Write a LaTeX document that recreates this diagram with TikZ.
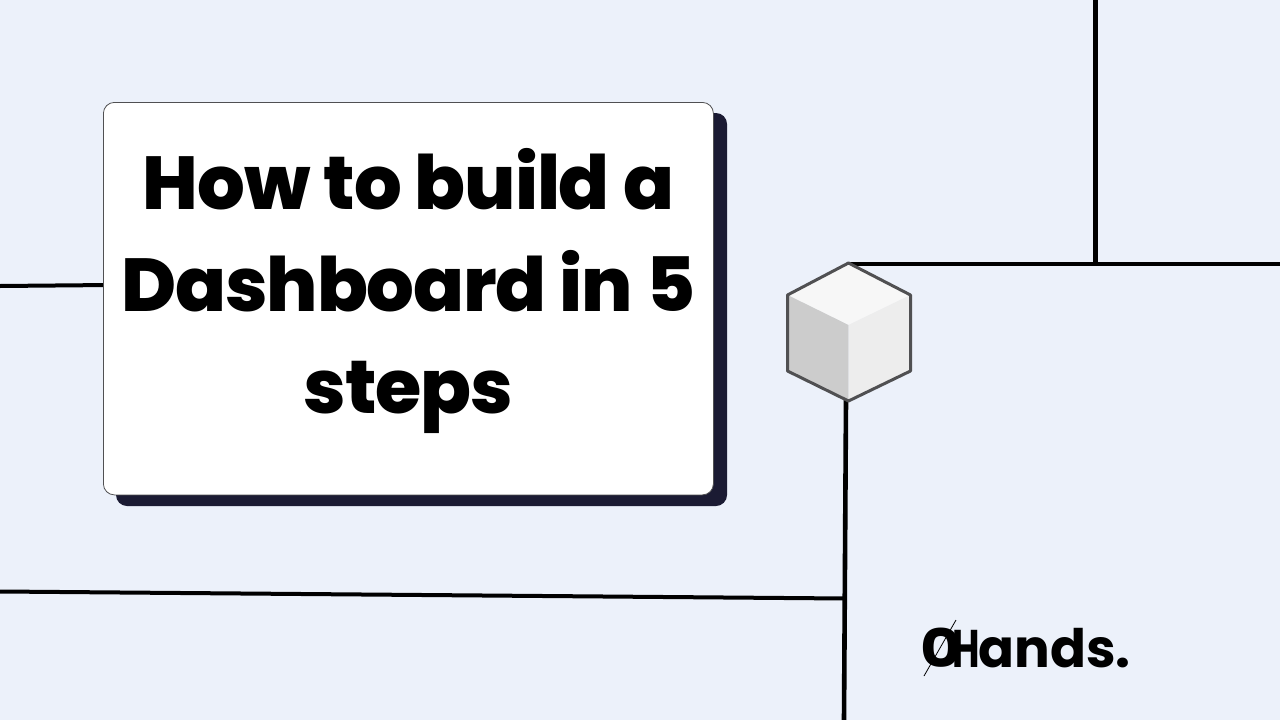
\documentclass[tikz,border=0pt]{standalone}
\usepackage{fontspec}
\usepackage{graphicx}
\setmainfont{Poppins}
\newfontfamily\popb{Poppins}[UprightFont=* ExtraBold,LetterSpace=-1.55]
\newfontfamily\poplogo{Poppins}[UprightFont=* Bold]
\definecolor{bgc}{HTML}{ECF1FA}
\definecolor{shadowc}{HTML}{1B1B33}
\definecolor{edgec}{HTML}{505052}
\tikzset{
  wire/.style={draw=black,line width=4.6pt},
  wirethin/.style={draw=black,line width=4pt},
  facet/.style={draw=none},
}
\begin{document}
\begin{tikzpicture}[x=1pt,y=-1pt]
\useasboundingbox (0,0) rectangle (1280,720);
\fill[bgc] (0,0) rectangle (1280,720);
% wires
\coordinate (topEnd) at (1095.5,0);
\coordinate (topJoin) at (1095.5,264);
\coordinate (rightEnd) at (1280,264);
\coordinate (cubeTop) at (848,264);
\coordinate (leftA) at (0,286);
\coordinate (leftB) at (110,285);
\coordinate (cubeBot) at (846,400);
\coordinate (botEnd) at (844,720);
\coordinate (botJoin) at (845,598.5);
\coordinate (leftC) at (0,591.5);
\draw[wire] (topEnd) -- (topJoin);
\draw[wire] (cubeTop) -- (rightEnd);
\draw[wirethin] (leftA) -- (leftB);
\draw[wire] (cubeBot) -- (botEnd);
\draw[wirethin] (leftC) -- (botJoin);
% card
\fill[shadowc,rounded corners=11pt] (116,113) rectangle (727,506);
\node[draw=edgec,line width=0.8pt,fill=white,rounded corners=11pt,minimum width=610pt,minimum height=392.5pt,inner sep=0pt,anchor=north west] (card) at (103,102) {};
\node[font=\popb\fontsize{75}{102}\selectfont,align=center,text=black,inner sep=0pt] (title) at (408.5,291) {How to build a\\Dashboard in 5\\steps};
% cube
\coordinate (T) at (848.5,263);
\coordinate (R1) at (910.5,295);
\coordinate (R2) at (910.5,371);
\coordinate (B) at (848.5,401);
\coordinate (L2) at (787.5,371);
\coordinate (L1) at (787.5,295);
\coordinate (M) at (848.5,325);
\fill[facet,fill=white!97!black] (T) -- (R1) -- (M) -- (L1) -- cycle;
\fill[facet,fill=black!20] (L1) -- (M) -- (B) -- (L2) -- cycle;
\fill[facet,fill=black!7] (M) -- (R1) -- (R2) -- (B) -- cycle;
\draw[edgec,line width=3pt,line join=round] (T) -- (R1) -- (R2) -- (B) -- (L2) -- (L1) -- cycle;
% logo
\node[font=\poplogo\fontsize{53}{53}\selectfont,text=black,inner sep=0pt,anchor=base west] (logo) at (920,667) {\scalebox{1.2}[1]{0}\kern-9.5pt\scalebox{0.71}[1]{H}\kern-1.3ptands.};
\coordinate (s1) at (924,676);
\coordinate (s2) at (956,620);
\draw[black,line width=0.8pt] (s1) -- (s2);
\end{tikzpicture}
\end{document}
